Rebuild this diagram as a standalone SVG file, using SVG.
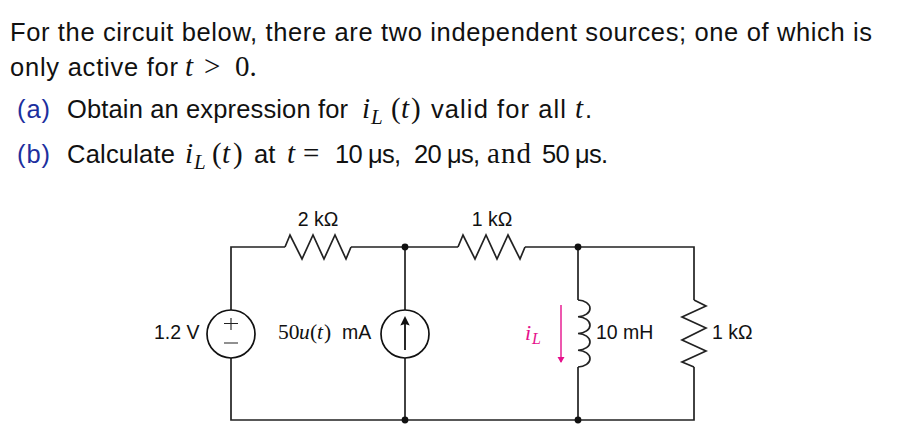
<svg xmlns="http://www.w3.org/2000/svg" width="914" height="442" viewBox="0 0 914 442">
<style>
text{font-family:"Liberation Sans",Arial,sans-serif;fill:#111}
.h{font-size:25.5px}
.x{font-size:29px}
.m{font-family:"Liberation Serif","Times New Roman",serif;font-style:italic}
.r{font-family:"Liberation Serif","Times New Roman",serif}
.c{font-size:19.5px}
.n{font-size:21.5px}
.w{fill:none;stroke:#222;stroke-width:1.7;stroke-linejoin:miter}
.b{fill:#fff;stroke:#111;stroke-width:1.7}
.d{fill:#111}
.blue{fill:#1c2f9e}
.pink{fill:#e6108c}
</style>
<defs>
<marker id="pk" markerWidth="6" markerHeight="8" refX="5" refY="4" orient="auto" markerUnits="userSpaceOnUse"><path d="M0 0.500L6 4L0 7.500Z" fill="#e6108c"/></marker>
</defs>
<g id="question">
<text class="h" x="10" y="41" textLength="862" lengthAdjust="spacing">For the circuit below, there are two independent sources; one of which is</text>
<text class="h" x="10" y="76" textLength="168" lengthAdjust="spacing">only active for</text>
<text class="x m" x="185" y="76">t</text>
<text class="x r" x="204" y="76">&gt;</text>
<text class="x r" x="235" y="76">0.</text>
<text class="h blue" x="17" y="118" textLength="33" lengthAdjust="spacing">(a)</text>
<text class="h" x="67" y="118" textLength="281" lengthAdjust="spacing">Obtain an expression for</text>
<text class="x m" x="362" y="118">i</text>
<text class="m" x="371" y="124" font-size="21">L</text>
<text class="x r" x="391" y="118">(</text>
<text class="x m" x="401" y="118">t</text>
<text class="x r" x="411" y="118">)</text>
<text class="h" x="431" y="118" textLength="135" lengthAdjust="spacing">valid for all</text>
<text class="x m" x="575" y="118">t</text>
<text class="h" x="585" y="118">.</text>
<text class="h blue" x="17" y="163" textLength="33" lengthAdjust="spacing">(b)</text>
<text class="h" x="67" y="163" textLength="108" lengthAdjust="spacing">Calculate</text>
<text class="x m" x="185" y="163">i</text>
<text class="m" x="194" y="169" font-size="21">L</text>
<text class="x r" x="212" y="163">(</text>
<text class="x m" x="222" y="163">t</text>
<text class="x r" x="233" y="163">)</text>
<text class="h" x="254" y="163">at</text>
<text class="x m" x="287" y="163">t</text>
<text class="x r" x="303" y="163">=</text>
<text class="h" x="335" y="163" textLength="66" lengthAdjust="spacing">10 μs,</text>
<text class="h" x="414" y="163" textLength="66" lengthAdjust="spacing">20 μs,</text>
<text class="x r" x="487" y="163" textLength="44" lengthAdjust="spacing">and</text>
<text class="h" x="542" y="163" textLength="66" lengthAdjust="spacing">50 μs.</text>
</g>
<g id="connectors">
<path class="w" d="M231 310V247H285M351 247H458M525 247H694V300M694 367V420H231V358"/>
<path class="w" d="M405 247V310M405 358V420M578 247V300M578 367V420"/>
<path d="M561 305V362" fill="none" stroke="#e6108c" stroke-width="1.400" marker-end="url(#pk)"/>
</g>
<g id="R1"><path class="w" d="M285 247L290 235L302 259L313 235L324 259L335 235L346 259L351 247"/><text class="c" x="318" y="226" text-anchor="middle">2 kΩ</text></g>
<g id="R2"><path class="w" d="M458 247L463 235L475 259L486 235L497 259L508 235L520 259L525 247"/><text class="c" x="492" y="226" text-anchor="middle">1 kΩ</text></g>
<g id="R3"><path class="w" d="M694 300L706 306L682 317L706 328L682 340L706 351L682 362L694 367"/><text class="c" x="712" y="339">1 kΩ</text></g>
<g id="L1"><path class="w" d="M578 300A13 8.400 0 0 1 578 316.750A13 8.400 0 0 1 578 333.500A13 8.400 0 0 1 578 350.250A13 8.400 0 0 1 578 367"/><text class="c" x="596" y="339">10 mH</text></g>
<g id="V1"><circle class="b" cx="231" cy="334" r="24"/><path d="M224 323.500H238M231 318V330M224 343H238" fill="none" stroke="#222" stroke-width="1.100"/><text class="c" x="154" y="339">1.2 V</text></g>
<g id="I1"><circle class="b" cx="405" cy="334" r="24"/><path d="M405 350V324" fill="none" stroke="#111" stroke-width="1.800"/><path d="M405 316L409.700 325.500L405 324L400.300 325.500Z" fill="#111"/><text class="n r" x="278" y="339">50</text><text class="n m" x="299" y="339">u</text><text class="n r" x="310" y="339">(</text><text class="n m" x="317" y="339">t</text><text class="n r" x="324" y="339">)</text><text class="c" x="342" y="339">mA</text></g>
<g id="iL"><text class="m pink" x="525" y="340" font-size="22">i</text><text class="m pink" x="532" y="344" font-size="16">L</text></g>
<g id="nodes"><circle class="d" cx="405" cy="247" r="3.400"/><circle class="d" cx="405" cy="420" r="3.400"/><circle class="d" cx="578" cy="247" r="3.400"/><circle class="d" cx="578" cy="420" r="3.400"/></g>
</svg>
